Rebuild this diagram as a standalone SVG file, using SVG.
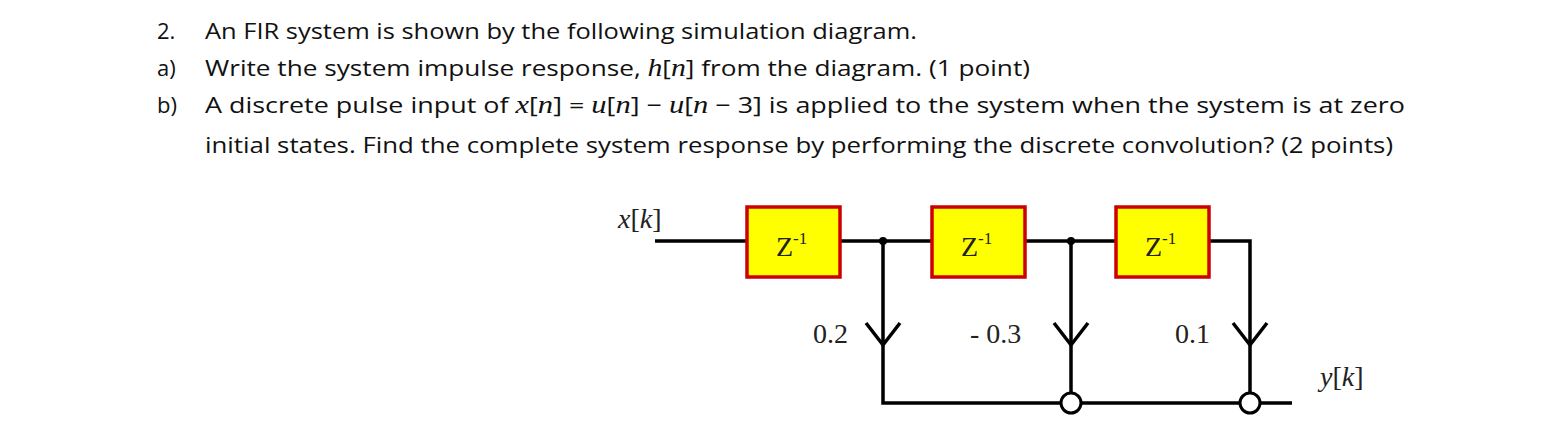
<svg xmlns="http://www.w3.org/2000/svg" width="1546" height="438" viewBox="0 0 1546 438">
<style>
.t{font-family:"Open Sans","Liberation Sans",sans-serif;font-size:22px;fill:#111}
.m{font-family:"Liberation Serif",serif;font-style:italic;font-size:25px}
.s{font-family:"Liberation Serif",serif;font-size:28px;fill:#222}
.w{stroke:#000;stroke-width:3.5;fill:none}
.box{fill:#ffff00;stroke:#cc0000;stroke-width:3.5}
</style>
<rect width="1546" height="438" fill="#fff"/>
<g id="text">
<text class="t" x="157" y="39">2.</text><text class="t" x="205" y="39" textLength="712" lengthAdjust="spacingAndGlyphs">An FIR system is shown by the following simulation diagram.</text>
<text class="t" x="157" y="76">a)</text><text class="t" x="205" y="76" textLength="825" lengthAdjust="spacingAndGlyphs">Write the system impulse response, <tspan class="m">h</tspan>[<tspan class="m">n</tspan>] from the diagram. (1 point)</text>
<text class="t" x="157" y="113">b)</text><text class="t" x="205" y="113" textLength="1200" lengthAdjust="spacingAndGlyphs">A discrete pulse input of <tspan class="m">x</tspan>[<tspan class="m">n</tspan>] = <tspan class="m">u</tspan>[<tspan class="m">n</tspan>] − <tspan class="m">u</tspan>[<tspan class="m">n</tspan> − 3] is applied to the system when the system is at zero</text>
<text class="t" x="205" y="153" textLength="1188" lengthAdjust="spacingAndGlyphs">initial states. Find the complete system response by performing the discrete convolution? (2 points)</text>
</g>
<g id="connectors">
<path class="w" d="M655 241H747M840 241H932M1025 241H1116M1210 241H1250V393M883 241V403H1061M1081 403H1240M1260 403H1292M1071 241V393"/>
<path class="w" d="M866 323L883 345L900 323M1054 323L1071 345L1088 323M1233 323L1250 345L1267 323"/>
<circle cx="883" cy="241" r="4"/><circle cx="1071" cy="241" r="4"/>
<circle cx="1071" cy="403" r="10" fill="#fff" stroke="#000" stroke-width="3"/>
<circle cx="1250" cy="403" r="10" fill="#fff" stroke="#000" stroke-width="3"/>
</g>
<g id="d1"><rect class="box" x="747" y="207" width="93" height="70"/><text class="s" x="776" y="256">Z<tspan font-size="17" dy="-12">-1</tspan></text></g>
<g id="d2"><rect class="box" x="932" y="207" width="93" height="70"/><text class="s" x="961" y="256">Z<tspan font-size="17" dy="-12">-1</tspan></text></g>
<g id="d3"><rect class="box" x="1116" y="207" width="93" height="70"/><text class="s" x="1145" y="256">Z<tspan font-size="17" dy="-12">-1</tspan></text></g>
<g id="labels">
<text class="s" x="618" y="228"><tspan font-style="italic">x</tspan>[<tspan font-style="italic">k</tspan>]</text>
<text class="s" x="813" y="343">0.2</text>
<text class="s" x="970" y="343">- 0.3</text>
<text class="s" x="1175" y="343">0.1</text>
<text class="s" x="1320" y="386"><tspan font-style="italic">y</tspan>[<tspan font-style="italic">k</tspan>]</text>
</g>
</svg>
